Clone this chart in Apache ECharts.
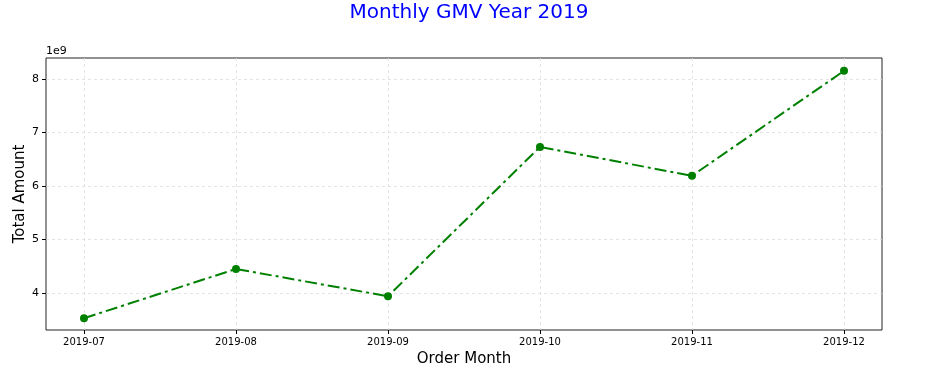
<!DOCTYPE html>
<html><head><meta charset="utf-8">
<script src="https://cdn.jsdelivr.net/npm/echarts@6/dist/echarts.min.js"></script>
<style>html,body{margin:0;padding:0;background:#fff}#c{width:936px;height:370px}</style>
</head><body><div id="c"></div>
<script>
const months = ['2019-07','2019-08','2019-09','2019-10','2019-11','2019-12'];
const totalAmount = [3.53e9, 4.45e9, 3.94e9, 6.73e9, 6.19e9, 8.15e9];
const yTicks = [4e9, 5e9, 6e9, 7e9, 8e9];

const font = 'DejaVu Sans';
const chart = echarts.init(document.getElementById('c'), null, {renderer: 'canvas'});
const xIdx = months.map((m, i) => i);
chart.setOption({
  animation: false,
  backgroundColor: '#fff',
  title: {
    text: 'Monthly GMV Year 2019', left: 464, top: -2, textAlign: 'center',
    textStyle: {color: '#0000ff', fontSize: 20, fontWeight: 'normal', fontFamily: font}
  },
  grid: {left: 46, right: 54, top: 58, bottom: 40, show: true, borderColor: '#222', borderWidth: 1,
         containLabel: false, outerBoundsMode: 'none'},
  graphic: [
    {type: 'text', left: 46, top: 46, style: {text: '1e9', font: '11px DejaVu Sans', fill: '#000'}},
    {type: 'text', x: 20, y: 194, rotation: Math.PI / 2,
     style: {text: 'Total Amount', font: '15px DejaVu Sans', fill: '#000', align: 'center', verticalAlign: 'middle'}}
  ],
  xAxis: {
    type: 'value', min: -0.25, max: 5.25,
    name: 'Order Month', nameLocation: 'middle', nameGap: 22,
    nameTextStyle: {fontSize: 15, fontFamily: font, color: '#000'},
    axisLine: {show: false, onZero: false},
    axisTick: {show: true, inside: false, length: 4, lineStyle: {color: '#000'}, customValues: xIdx},
    axisLabel: {customValues: xIdx, formatter: v => months[Math.round(v)], fontSize: 10, fontFamily: font, color: '#000', margin: 7},
    splitLine: {show: true, lineStyle: {color: '#dcdcdc', type: [3, 3], width: 0.8}}
  },
  yAxis: {
    type: 'value', min: 3.31e9, max: 8.39e9,
    axisLine: {show: false, onZero: false},
    axisTick: {show: true, inside: false, length: 4, lineStyle: {color: '#000'}, customValues: yTicks},
    axisLabel: {customValues: yTicks, formatter: v => String(Math.round(v / 1e9)), fontSize: 11, fontFamily: font, color: '#000', margin: 7},
    splitLine: {show: true, lineStyle: {color: '#dcdcdc', type: [3, 3], width: 0.8}}
  },
  series: [{
    type: 'line',
    data: totalAmount.map((v, i) => [xIdx[i], v]),
    symbol: 'circle', symbolSize: 8,
    itemStyle: {color: '#008000'},
    lineStyle: {color: '#008000', width: 2, type: [12, 4, 3, 4]}
  }]
});
</script></body></html>
